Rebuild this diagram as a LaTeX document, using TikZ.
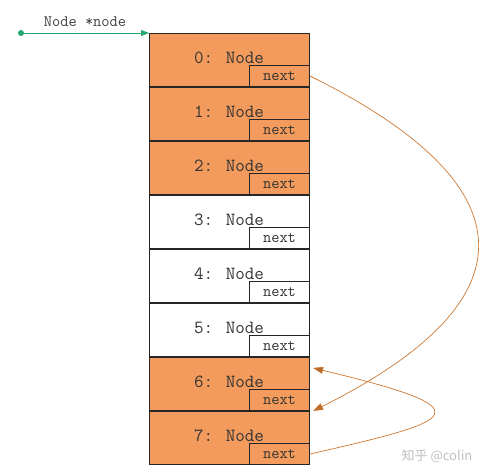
\documentclass[tikz,border=0pt]{standalone}
\usepackage{fontspec}
\newfontfamily\cjk{Noto Sans CJK SC}
\usetikzlibrary{arrows.meta}
\definecolor{cellorange}{RGB}{242,155,92}
\definecolor{linkorange}{RGB}{205,120,50}
\definecolor{ptrgreen}{RGB}{35,165,110}

\begin{document}
\begin{tikzpicture}[x=1pt, y=-1pt,
	cell/.style={draw=black!85, line width=1.1pt, minimum width=160pt, minimum height=53pt, inner sep=0pt, anchor=north west},
	celltext/.style={text=black!80, font=\ttfamily\fontsize{18.5}{18.5}\selectfont, inner sep=0pt},
	nextbox/.style={draw=black!85, line width=1pt, minimum width=60pt, minimum height=21pt, inner sep=0pt, anchor=north west, text=black!80, font=\ttfamily\fontsize{16}{16}\selectfont},
	link/.style={draw=linkorange, line width=0.7pt, -{Triangle[length=10pt, width=7pt, fill=linkorange!90!black]}},
	ptr/.style={draw=ptrgreen, line width=0.8pt, -{Triangle[length=8pt, width=6pt]}}]
			%%%%% START %%%%%
			
			\useasboundingbox (0, 0) rectangle (490, 476);
			
			\node[circle, fill=ptrgreen, inner sep=0pt, minimum size=6pt] (head) at (21, 33) {};
			\node[celltext, text=black!75, font=\ttfamily\fontsize{16}{16}\selectfont] (headlabel) at (85, 22) {Node *node};
			
			\node[cell, fill=cellorange] (n0) at (149, 33) {};
			\node[celltext] (t0) at (229, 58) {0: Node};
			\node[nextbox] (nx0) at (249, 65) {next};
			
			\node[cell, fill=cellorange] (n1) at (149, 87) {};
			\node[celltext] (t1) at (229, 112) {1: Node};
			\node[nextbox] (nx1) at (249, 119) {next};
			
			\node[cell, fill=cellorange] (n2) at (149, 141) {};
			\node[celltext] (t2) at (229, 166) {2: Node};
			\node[nextbox] (nx2) at (249, 173) {next};
			
			\node[cell, fill=white] (n3) at (149, 195) {};
			\node[celltext] (t3) at (229, 220) {3: Node};
			\node[nextbox] (nx3) at (249, 227) {next};
			
			\node[cell, fill=white] (n4) at (149, 249) {};
			\node[celltext] (t4) at (229, 274) {4: Node};
			\node[nextbox] (nx4) at (249, 281) {next};
			
			\node[cell, fill=white] (n5) at (149, 303) {};
			\node[celltext] (t5) at (229, 328) {5: Node};
			\node[nextbox] (nx5) at (249, 335) {next};
			
			\node[cell, fill=cellorange] (n6) at (149, 357) {};
			\node[celltext] (t6) at (229, 382) {6: Node};
			\node[nextbox] (nx6) at (249, 389) {next};
			
			\node[cell, fill=cellorange] (n7) at (149, 411) {};
			\node[celltext] (t7) at (229, 436) {7: Node};
			\node[nextbox] (nx7) at (249, 443) {next};
			
			\draw[ptr] (head) -- (n0.north west);
			
			\draw[link] (nx0.east) .. controls (520, 180) and (545, 295) .. ([xshift=3pt]n7.north east);
			\draw[link] (nx7.east) .. controls (460, 420) and (488, 410) .. ([xshift=3pt, yshift=-11pt]n6.north east);
			
			\node[text=black!25, font=\cjk\fontsize{13}{13}\selectfont] (mark) at (437, 456) {知乎 @colin};
			
			%%%%% END %%%%%
		\end{tikzpicture}
\end{document}
